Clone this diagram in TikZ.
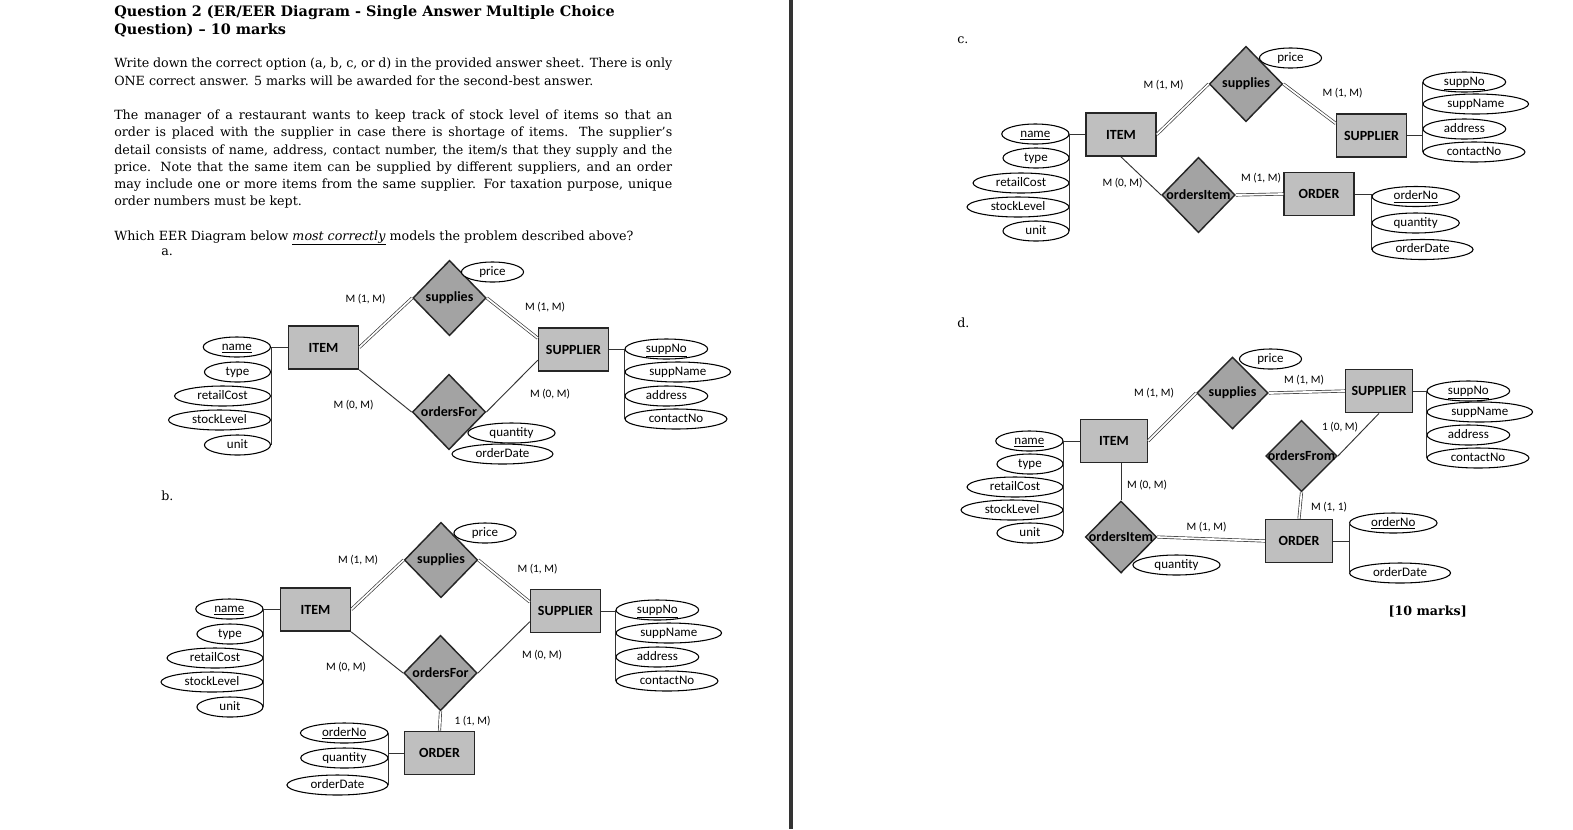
\documentclass[tikz,border=0pt]{standalone}
\usepackage{fontspec}
\setmainfont{DejaVu Serif}
\newfontfamily\erfont{Carlito}
\usetikzlibrary{shapes.geometric,positioning}

\newcommand\fullline[1]{\makebox[418.5pt][s]{#1}}

\tikzset{
  entity/.style={draw=black!85, line width=1.1pt, fill=gray!50, minimum width=52.5pt, minimum height=32.5pt, inner sep=0pt, font=\erfont\fontsize{10.5}{12}\selectfont\bfseries},
  rel/.style={diamond, draw=black!85, line width=1.1pt, fill=gray!72, minimum width=55pt, minimum height=56.5pt, inner sep=0pt, font=\erfont\fontsize{10.5}{12}\selectfont\bfseries},
  attr/.style={ellipse, draw, line width=0.8pt, fill=white, minimum width=49.5pt, minimum height=15pt, inner xsep=6.6pt, inner ysep=0pt, text height=7pt, text depth=2pt, font=\erfont\fontsize{9.75}{11}\selectfont},
  card/.style={inner sep=0pt, font=\erfont\fontsize{8.5}{10}\selectfont},
  link/.style={draw=black!80, line width=0.7pt},
  total/.style={draw=black!80, line width=0.5pt, double=white, double distance=1.3pt},
  para/.style={anchor=base west, inner sep=0pt, font=\fontsize{9.5}{11}\selectfont},
  head/.style={anchor=base west, inner sep=0pt, font=\fontsize{10.8}{12}\selectfont\bfseries},
}

\begin{document}
\begin{tikzpicture}[x=0.75pt,y=-0.75pt]
\path[fill=white] (0,0) rectangle (1573,829);
\useasboundingbox (0,0) rectangle (1573,829);

% question text
\node[head] (title1) at (114,16) {Question 2 (ER/EER Diagram - Single Answer Multiple Choice};
\node[head] (title2) at (114,34.3) {Question) -- 10 marks};
\node[para] (intro1) at (114,67.7) {\fullline{Write down the correct option (a, b, c, or d) in the provided answer sheet. There is only}};
\node[para] (intro2) at (114,85) {ONE correct answer. 5 marks will be awarded for the second-best answer.};
\node[para] (case1) at (114,119) {\fullline{The manager of a restaurant wants to keep track of stock level of items so that an}};
\node[para] (case2) at (114,136.7) {\fullline{order is placed with the supplier in case there is shortage of items. The supplier's}};
\node[para] (case3) at (114,154) {\fullline{detail consists of name, address, contact number, the item/s that they supply and the}};
\node[para] (case4) at (114,171) {\fullline{price. Note that the same item can be supplied by different suppliers, and an order}};
\node[para] (case5) at (114,188) {\fullline{may include one or more items from the same supplier. For taxation purpose, unique}};
\node[para] (case6) at (114,205.7) {order numbers must be kept.};
\node[para] (ask) at (114,240) {Which EER Diagram below \underline{\textit{most correctly}} models the problem described above?};
\node[para] (optA) at (161,255) {a.};
\node[para] (optB) at (161,500) {b.};
\node[para] (optC) at (957,43) {c.};
\node[para] (optD) at (957,327) {d.};
\node[para, anchor=base east, font=\fontsize{9.5}{11}\selectfont\bfseries] (marks) at (1467,615) {[10 marks]};

\draw[line width=2.6pt, black!80] (791,0) -- (791,829);

% option a
\node[entity] (itemA) at (323.5,347.5) {ITEM};
\node[entity] (supA) at (573.5,349.5) {SUPPLIER};
\node[rel] (suppliesA) at (449.5,298) {\makebox[0pt]{supplies}};
\node[rel] (ordersForA) at (449,412) {\makebox[0pt]{ordersFor}};
\node[attr, minimum width=46pt] (priceA) at (492.5,272) {price};
\node[attr] (quantityA) at (511.5,433) {quantity};
\node[attr] (orderDateA) at (502.5,454) {orderDate};
\node[card] (cardA1) at (365.5,299) {M (1, M)};
\node[card] (cardA2) at (545,307) {M (1, M)};
\node[card] (cardA3) at (353.5,405) {M (0, M)};
\node[card] (cardA4) at (550,394) {M (0, M)};
\node[attr, anchor=east] (nameA) at (271,347) {\underline{name}};
\node[attr, anchor=east] (typeA) at (271,372) {type};
\node[attr, anchor=east] (retailA) at (271,396) {retailCost};
\node[attr, anchor=east] (stockA) at (271,420) {stockLevel};
\node[attr, anchor=east] (unitA) at (271,445) {unit};
\node[attr, anchor=west] (suppNoA) at (624.5,349) {\underline{suppNo}};
\node[attr, anchor=west] (suppNameA) at (624.5,372) {suppName};
\node[attr, anchor=west] (addressA) at (624.5,396) {address};
\node[attr, anchor=west] (contactA) at (624.5,419) {contactNo};
\path (itemA.east) edge[total] (suppliesA.west)
      (suppliesA.east) edge[total] ([yshift=8.5pt]supA.west)
      (itemA.south east) edge[link] (ordersForA.west)
      (ordersForA.east) edge[link] ([yshift=-8pt]supA.west)
      (nameA.east) edge[link] (unitA.east)
      (itemA.west) edge[link] (itemA.west -| nameA.east)
      (suppNoA.west) edge[link] (contactA.west)
      (supA.east) edge[link] (supA.east -| suppNoA.west);

% option b
\node[entity] (itemB) at (315.5,609.5) {ITEM};
\node[entity] (supB) at (565.5,611) {SUPPLIER};
\node[entity] (orderB) at (439.5,753) {ORDER};
\node[rel] (suppliesB) at (441,560) {\makebox[0pt]{supplies}};
\node[rel] (ordersForB) at (440.5,673) {\makebox[0pt]{ordersFor}};
\node[attr, minimum width=46pt] (priceB) at (485,533) {price};
\node[card] (cardB1) at (358,560) {M (1, M)};
\node[card] (cardB2) at (537.5,569) {M (1, M)};
\node[card] (cardB3) at (346,667) {M (0, M)};
\node[card] (cardB4) at (542,655) {M (0, M)};
\node[card] (cardB5) at (472.5,721) {1 (1, M)};
\node[attr, anchor=east] (nameB) at (263.5,609) {\underline{name}};
\node[attr, anchor=east] (typeB) at (263.5,634) {type};
\node[attr, anchor=east] (retailB) at (263.5,658) {retailCost};
\node[attr, anchor=east] (stockB) at (263.5,682) {stockLevel};
\node[attr, anchor=east] (unitB) at (263.5,707) {unit};
\node[attr, anchor=west] (suppNoB) at (615.5,610) {\underline{suppNo}};
\node[attr, anchor=west] (suppNameB) at (615.5,633) {suppName};
\node[attr, anchor=west] (addressB) at (615.5,657) {address};
\node[attr, anchor=west] (contactB) at (615.5,681) {contactNo};
\node[attr, anchor=east] (orderNoB) at (388.5,733) {\underline{orderNo}};
\node[attr, anchor=east] (quantityB) at (388.5,758) {quantity};
\node[attr, anchor=east] (orderDateB) at (388.5,785) {orderDate};
\path (itemB.east) edge[total] (suppliesB.west)
      (suppliesB.east) edge[total] ([yshift=6.8pt]supB.west)
      (itemB.south east) edge[link] (ordersForB.west)
      (ordersForB.east) edge[link] ([yshift=-8pt]supB.west)
      (ordersForB.south) edge[total] (orderB.north)
      (nameB.east) edge[link] (unitB.east)
      (itemB.west) edge[link] (itemB.west -| nameB.east)
      (suppNoB.west) edge[link] (contactB.west)
      (supB.east) edge[link] (supB.east -| suppNoB.west)
      (orderNoB.east) edge[link] (orderDateB.east)
      (orderB.west) edge[link] (orderB.west -| orderNoB.east);

% option c
\node[entity] (itemC) at (1121,134.5) {ITEM};
\node[entity] (supC) at (1371.5,135.5) {SUPPLIER};
\node[entity] (orderC) at (1319,194) {ORDER};
\node[rel] (suppliesC) at (1246,84) {\makebox[0pt]{supplies}};
\node[rel] (ordersItemC) at (1198.5,195) {\makebox[0pt]{ordersItem}};
\node[attr, minimum width=46pt] (priceC) at (1290.5,58) {price};
\node[card] (cardC1) at (1163.5,85) {M (1, M)};
\node[card] (cardC2) at (1342.5,93) {M (1, M)};
\node[card] (cardC3) at (1122.5,183) {M (0, M)};
\node[card] (cardC4) at (1261,178) {M (1, M)};
\node[attr, anchor=east] (nameC) at (1069.5,134) {\underline{name}};
\node[attr, anchor=east] (typeC) at (1069.5,158) {type};
\node[attr, anchor=east] (retailC) at (1069.5,183) {retailCost};
\node[attr, anchor=east] (stockC) at (1069.5,207) {stockLevel};
\node[attr, anchor=east] (unitC) at (1069.5,231) {unit};
\node[attr, anchor=west] (suppNoC) at (1422.5,82) {\underline{suppNo}};
\node[attr, anchor=west] (suppNameC) at (1422.5,104) {suppName};
\node[attr, anchor=west] (addressC) at (1422.5,129) {address};
\node[attr, anchor=west] (contactC) at (1422.5,152) {contactNo};
\node[attr, anchor=west] (orderNoC) at (1371.5,196.5) {\underline{orderNo}};
\node[attr, anchor=west] (quantityC) at (1371.5,223) {quantity};
\node[attr, anchor=west] (orderDateC) at (1371.5,249.5) {orderDate};
\path (itemC.east) edge[total] (suppliesC.west)
      (suppliesC.east) edge[total] ([yshift=9pt]supC.west)
      (itemC.south) edge[link] (ordersItemC.west)
      (ordersItemC.east) edge[total] (orderC.west)
      (nameC.east) edge[link] (unitC.east)
      (itemC.west) edge[link] (itemC.west -| nameC.east)
      (suppNoC.west) edge[link] (contactC.west)
      (supC.east) edge[link] (supC.east -| suppNoC.west)
      (orderC.east -| orderNoC.west) edge[link] (orderDateC.west)
      (orderC.east) edge[link] (orderC.east -| orderNoC.west);

% option d
\node[entity, minimum width=50pt] (itemD) at (1114,441) {ITEM};
\node[entity, minimum width=50pt] (supD) at (1379,391) {SUPPLIER};
\node[entity, minimum width=50pt] (orderD) at (1299,541) {ORDER};
\node[rel, minimum width=53.5pt, minimum height=54pt] (suppliesD) at (1232.5,393) {\makebox[0pt]{supplies}};
\node[rel, minimum width=53.5pt, minimum height=53.5pt] (ordersFromD) at (1301.5,456) {\makebox[0pt]{ordersFrom}};
\node[rel, minimum width=53.5pt, minimum height=54pt] (ordersItemD) at (1121,537) {\makebox[0pt]{ordersItem}};
\node[attr, minimum width=44pt] (priceD) at (1270.5,359) {price};
\node[attr] (quantityD) at (1176.5,565) {quantity};
\node[card] (cardD1) at (1154,393) {M (1, M)};
\node[card] (cardD2) at (1304,380) {M (1, M)};
\node[card] (cardD3) at (1340,427) {1 (0, M)};
\node[card] (cardD4) at (1147,485) {M (0, M)};
\node[card] (cardD5) at (1329,507) {M (1, 1)};
\node[card] (cardD6) at (1206.5,527) {M (1, M)};
\node[attr, anchor=east] (nameD) at (1063.5,441) {\underline{name}};
\node[attr, anchor=east] (typeD) at (1063.5,464) {type};
\node[attr, anchor=east] (retailD) at (1063.5,487) {retailCost};
\node[attr, anchor=east] (stockD) at (1063.5,510) {stockLevel};
\node[attr, anchor=east] (unitD) at (1063.5,533) {unit};
\node[attr, anchor=west] (suppNoD) at (1426.5,391) {\underline{suppNo}};
\node[attr, anchor=west] (suppNameD) at (1426.5,412) {suppName};
\node[attr, anchor=west] (addressD) at (1426.5,435) {address};
\node[attr, anchor=west] (contactD) at (1426.5,458) {contactNo};
\node[attr, anchor=west] (orderNoD) at (1349,523) {\underline{orderNo}};
\node[attr, anchor=west] (orderDateD) at (1349,573) {orderDate};
\path (itemD.east) edge[total] (suppliesD.west)
      (suppliesD.east) edge[total] (supD.west)
      (supD.south) edge[link] (ordersFromD.east)
      (ordersFromD.south) edge[total] (orderD.north)
      (ordersItemD.north |- itemD.south) edge[link] (ordersItemD.north)
      (ordersItemD.east) edge[total] (orderD.west)
      (nameD.east) edge[link] (unitD.east)
      (itemD.west) edge[link] (itemD.west -| nameD.east)
      (suppNoD.west) edge[link] (contactD.west)
      (supD.east) edge[link] (supD.east -| suppNoD.west)
      (orderNoD.west) edge[link] (orderDateD.west)
      (orderD.east) edge[link] (orderD.east -| orderNoD.west);
\end{tikzpicture}
\end{document}
